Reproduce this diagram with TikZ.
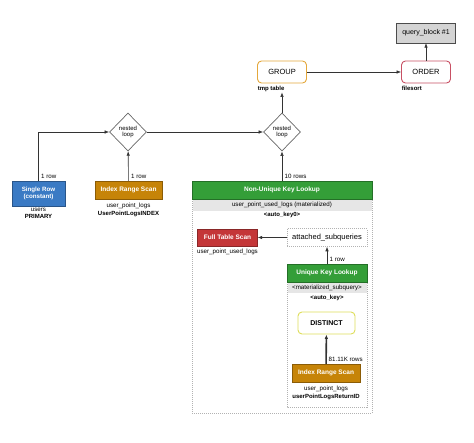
\documentclass[tikz,border=0pt]{standalone}
\usepackage{fontspec}
\setmainfont{Liberation Sans}
\usetikzlibrary{shapes.geometric,arrows.meta,positioning}
\definecolor{qgray}{RGB}{212,212,212}
\definecolor{ordred}{RGB}{200,80,100}
\definecolor{grporange}{RGB}{228,168,60}
\definecolor{rowblue}{RGB}{58,122,196}
\definecolor{scangold}{RGB}{198,132,8}
\definecolor{lookgreen}{RGB}{52,158,56}
\definecolor{fullred}{RGB}{196,54,56}
\definecolor{distyellow}{RGB}{222,222,90}
\definecolor{bandgray}{RGB}{230,230,230}
\tikzset{
  txt/.style={font=\fontsize{6.2}{7}\selectfont, inner sep=0.5pt},
  bld/.style={font=\bfseries\fontsize{6}{7}\selectfont, inner sep=0.5pt},
  opbox/.style={rounded corners=4pt, draw=#1, line width=0.9pt, fill=white,
    minimum width=49pt, minimum height=22pt, font=\fontsize{7.5}{8.5}\selectfont},
  accbox/.style={draw=#1!70!black, fill=#1, text=white, minimum height=18pt,
    font=\bfseries\fontsize{6.5}{7.5}\selectfont, align=center},
  loopnode/.style={diamond, draw=gray!80!black, line width=0.7pt, fill=white,
    minimum width=37pt, minimum height=38pt, inner sep=0pt, align=center,
    font=\fontsize{6}{6.5}\selectfont},
  frame/.style={draw=gray!60, dash pattern=on 1pt off 1pt, line width=0.5pt},
  flow/.style={-{Latex[length=4.5pt,width=3.5pt]}, line width=0.6pt, draw=black!80},
}
\begin{document}
\begin{tikzpicture}[x=1pt,y=-1pt]
\useasboundingbox (0,0) rectangle (474,442);
% top of the plan
\node[draw=gray!60!black, fill=qgray, minimum width=59pt, minimum height=20pt,
  font=\fontsize{7}{8}\selectfont] (qb) at (426,33) {query\_block \#1};
\node[opbox=ordred] (order) at (426,72) {ORDER};
\node[opbox=grporange] (group) at (282,72) {GROUP};
\node[bld, anchor=north west] (grouplbl) at ([yshift=-2pt]group.south west) {tmp table};
\node[bld, anchor=north west] (orderlbl) at ([yshift=-2pt]order.south west) {filesort};
% joins
\node[loopnode] (nl1) at (128,132) {nested\\loop};
\node[loopnode] (nl2) at (282,132) {nested\\loop};
% left tables
\node[accbox=rowblue, minimum width=53pt, minimum height=25pt,
  font=\bfseries\fontsize{6.2}{7.2}\selectfont] (single) at (38.5,193.5) {Single Row\\(constant)};
\node[txt, below=1.5pt of single] (singlet) {users};
\node[bld, below=1pt of singlet] (singlek) {PRIMARY};
\node[accbox=scangold, minimum width=67pt] (irs1) at (128.5,190) {Index Range Scan};
\node[txt, below=3pt of irs1] (irs1t) {user\_point\_logs};
\node[bld, below=1pt of irs1t] (irs1k) {UserPointLogsINDEX};
% materialized table
\draw[frame] (192,199) rectangle (372,413);
\fill[bandgray] (192.5,199) rectangle (371.5,211);
\node[accbox=lookgreen, minimum width=180pt] (nukl) at (282,190) {Non-Unique Key Lookup};
\node[txt] (nuklt) at (282,205) {user\_point\_used\_logs (materialized)};
\node[bld] (nuklk) at (282,214.5) {<auto\_key0>};
\node[accbox=fullred, minimum width=60pt, minimum height=17pt] (fts) at (227.5,237.5) {Full Table Scan};
\node[txt, below=2pt of fts] (ftst) {user\_point\_used\_logs};
\node[frame, minimum width=80pt, minimum height=18pt, fill=white,
  font=\fontsize{7.5}{8.5}\selectfont] (att) at (327,237.5) {attached\_subqueries};
% subquery
\draw[frame] (287,282) rectangle (367,407);
\fill[bandgray] (287.5,282) rectangle (366.5,293);
\node[accbox=lookgreen, minimum width=80pt] (ukl) at (327,273) {Unique Key Lookup};
\node[txt] (uklt) at (327,288) {<materialized\_subquery>};
\node[bld] (uklk) at (327,298) {<auto\_key>};
\node[opbox=distyellow, minimum width=57pt, font=\bfseries\fontsize{7}{8}\selectfont] (distinct) at (326.5,323) {DISTINCT};
\node[accbox=scangold, minimum width=68pt] (irs2) at (326,373) {Index Range Scan};
\node[txt, below=3pt of irs2] (irs2t) {user\_point\_logs};
\node[bld, below=1pt of irs2t] (irs2k) {userPointLogsReturnID};
% connectors
\draw[flow] (order) -- (qb);
\draw[flow] (group) -- (order);
\draw[flow] (nl2) -- (nl2.north |- grouplbl.south);
\draw[flow] (nl1) -- (nl2);
\draw[flow] (single.north) |- (nl1.west);
\draw[flow] (irs1) -- (nl1);
\draw[flow] (nukl) -- (nl2);
\draw[flow] (att) -- (fts);
\draw[flow] (ukl) -- (att);
\draw[flow, line width=1.6pt] (irs2) -- (distinct);
% row counts
\node[txt, anchor=south west] (r1) at ([shift={(2pt,2pt)}]single.north) {1 row};
\node[txt, anchor=south west] (r2) at ([shift={(2pt,2pt)}]irs1.north) {1 row};
\node[txt, anchor=south west] (r3) at ([shift={(2pt,2pt)}]nukl.north) {10 rows};
\node[txt, anchor=south west] (r4) at ([shift={(2pt,2pt)}]ukl.north) {1 row};
\node[txt, anchor=south west] (r5) at ([shift={(2pt,2pt)}]irs2.north) {81.11K rows};
\end{tikzpicture}
\end{document}
